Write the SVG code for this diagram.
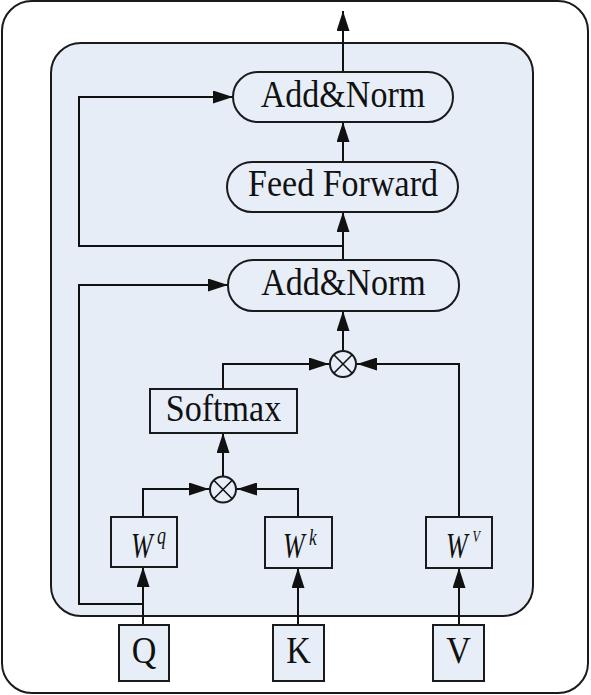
<svg xmlns="http://www.w3.org/2000/svg" width="591" height="695" viewBox="0 0 591 695">
<style>
.frame{fill:#ffffff;stroke:#1a1a1a;stroke-width:2}
.panel{fill:#e7edf7;stroke:#1a1a1a;stroke-width:2}
.node{fill:#e8eef8;stroke:#1a1a1a;stroke-width:2}
.lbl{font-family:"Liberation Serif","Times New Roman",serif;font-size:37px;fill:#111;text-anchor:middle}
.w{font-family:"Liberation Serif","Times New Roman",serif;font-style:italic;font-size:36px;fill:#111}
.conn path{fill:none;stroke:#111;stroke-width:2}
.x{stroke:#111;stroke-width:1.6}
</style>
<defs>
<marker id="arr" markerUnits="userSpaceOnUse" markerWidth="20" markerHeight="13" refX="20" refY="6.5" orient="auto">
<path d="M0,0 L20,6.5 L0,13 z" fill="#111"/>
</marker>
</defs>
<rect class="frame" x="2" y="1" width="586" height="692" rx="30" ry="30"/>
<rect class="panel" x="51" y="43" width="482" height="573" rx="30" ry="30"/>
<g class="conn">
<path d="M343,72 V11" marker-end="url(#arr)"/>
<path d="M343,162 V122" marker-end="url(#arr)"/>
<path d="M343,260 V212" marker-end="url(#arr)"/>
<path d="M343,246 H79 V97 H233" marker-end="url(#arr)"/>
<path d="M343,350 V311" marker-end="url(#arr)"/>
<path d="M223,389 V364 H329" marker-end="url(#arr)"/>
<path d="M459,517 V364 H357" marker-end="url(#arr)"/>
<path d="M223,476 V433" marker-end="url(#arr)"/>
<path d="M143,517 V489 H209" marker-end="url(#arr)"/>
<path d="M298,517 V489 H237" marker-end="url(#arr)"/>
<path d="M143,625 V567" marker-end="url(#arr)"/>
<path d="M298,625 V568" marker-end="url(#arr)"/>
<path d="M459,625 V568" marker-end="url(#arr)"/>
<path d="M143,604 H79 V285 H228" marker-end="url(#arr)"/>
</g>
<g id="addnorm-top">
<rect class="node" x="233" y="72" width="220" height="50" rx="25" ry="25"/>
<text class="lbl" transform="translate(343,107) scale(0.92,1)">Add&amp;Norm</text>
</g>
<g id="feedforward">
<rect class="node" x="227" y="162" width="231" height="50" rx="25" ry="25"/>
<text class="lbl" transform="translate(343,196) scale(0.92,1)">Feed Forward</text>
</g>
<g id="addnorm-mid">
<rect class="node" x="228" y="260" width="231" height="51" rx="25" ry="25"/>
<text class="lbl" transform="translate(343.5,295) scale(0.92,1)">Add&amp;Norm</text>
</g>
<g id="mult-top">
<circle class="node" cx="343" cy="364" r="13"/>
<path class="x" d="M333.8,354.8 L352.2,373.2 M352.2,354.8 L333.8,373.2"/>
</g>
<g id="softmax">
<rect class="node" x="150" y="389" width="147" height="44"/>
<text class="lbl" transform="translate(223.5,421) scale(0.92,1)">Softmax</text>
</g>
<g id="mult-bottom">
<circle class="node" cx="223" cy="489.5" r="13"/>
<path class="x" d="M213.8,480.3 L232.2,498.7 M232.2,480.3 L213.8,498.7"/>
</g>
<g id="wq">
<rect class="node" x="111" y="517" width="66" height="50"/>
<text class="w" transform="translate(131,558) scale(0.72,1)">W<tspan dx="6" dy="-14" font-size="25">q</tspan></text>
</g>
<g id="wk">
<rect class="node" x="265" y="517" width="67" height="51"/>
<text class="w" transform="translate(283,558) scale(0.72,1)">W<tspan dx="6" dy="-13" font-size="24">k</tspan></text>
</g>
<g id="wv">
<rect class="node" x="426" y="517" width="66" height="51"/>
<text class="w" transform="translate(446,558) scale(0.72,1)">W<tspan dx="7" dy="-16" font-size="17">V</tspan></text>
</g>
<g id="q">
<rect class="node" x="119" y="625" width="50" height="56"/>
<text class="lbl" transform="translate(144,663) scale(0.92,1)">Q</text>
</g>
<g id="k">
<rect class="node" x="273" y="625" width="51" height="56"/>
<text class="lbl" transform="translate(298.5,663) scale(0.92,1)">K</text>
</g>
<g id="v">
<rect class="node" x="433" y="625" width="51" height="56"/>
<text class="lbl" transform="translate(458.5,663) scale(0.92,1)">V</text>
</g>
</svg>
